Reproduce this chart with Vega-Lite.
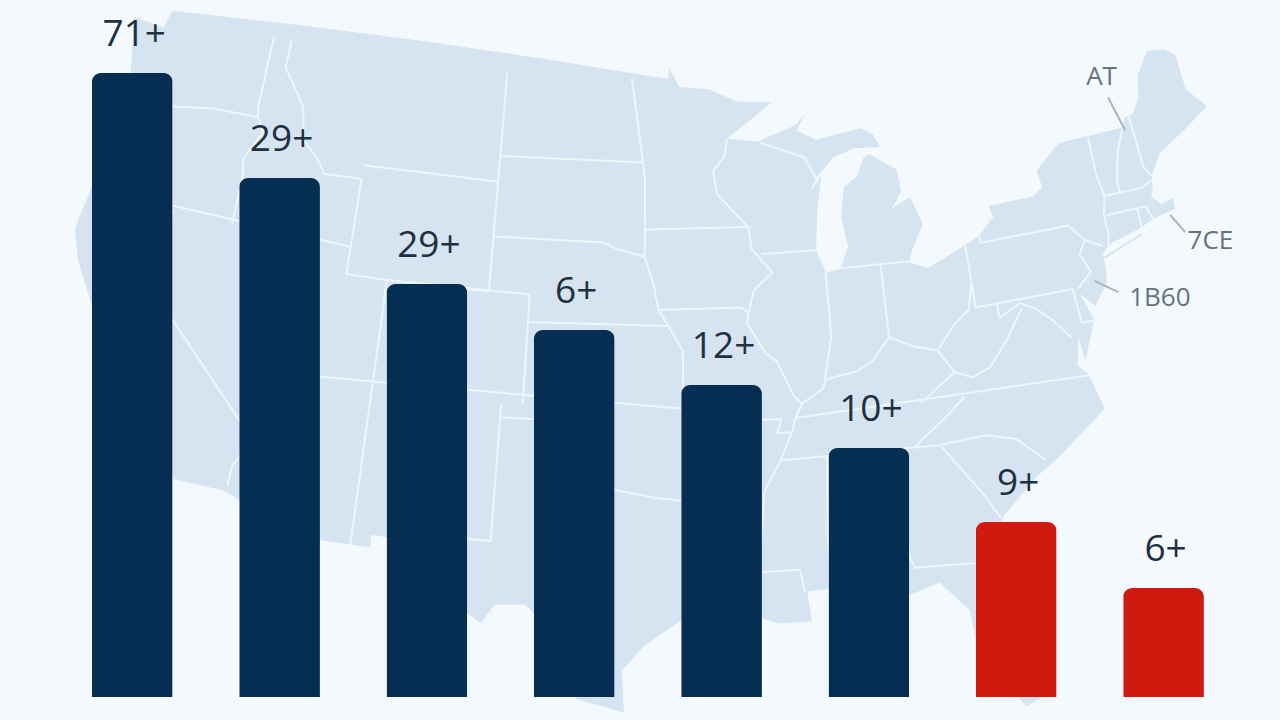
{"$schema":"https://vega.github.io/schema/vega-lite/v6.json","width":1280,"height":720,"padding":0,"autosize":{"type":"fit","contains":"padding"},"background":"#f4f9fe","config":{"view":{"stroke":null}},"layer":[
{"data":{"values":[{"type":"Feature","properties":{"name":"contiguous US"},"geometry":{"type":"MultiPolygon","coordinates":[[[[-124.7,48.4],[-123,48.3],[-122.8,49],[-95.2,49],[-95.15,49.4],[-94.6,48.7],[-93,48.6],[-91.5,48.1],[-89.6,48.0],[-92.1,46.75],[-90.5,46.6],[-88.4,47.1],[-87.9,47.47],[-88.4,46.9],[-87.4,46.5],[-85,46.75],[-84.4,46.5],[-84.1,46],[-85.5,46.05],[-86.6,45.8],[-87.6,45.1],[-88,44.55],[-87.3,45.2],[-87.7,43.8],[-87.9,42.5],[-87.5,41.65],[-86.8,41.75],[-86.3,42.5],[-86.5,43.6],[-86.2,44.7],[-85.5,45],[-85,45.7],[-84.7,45.78],[-83.4,45.1],[-83.3,44.3],[-83.9,43.7],[-82.9,44.05],[-82.45,43],[-83.1,42.2],[-83.4,41.7],[-82.5,41.4],[-81.2,41.8],[-79.8,42.25],[-78.9,42.85],[-79.05,43.27],[-76.8,43.3],[-76.2,43.55],[-76.3,44.2],[-75,44.95],[-74.7,45],[-71.5,45],[-71.3,45.3],[-70.8,45.4],[-70.3,45.9],[-70,46.7],[-69.2,47.45],[-68.3,47.35],[-67.8,47.05],[-67.8,45.7],[-67,44.9],[-68.5,44.3],[-70,43.75],[-70.7,43.05],[-70.8,42.6],[-71,42.3],[-70.6,41.95],[-70,42.05],[-70,41.65],[-71.2,41.5],[-71.9,41.3],[-73.6,41],[-74,40.7],[-74,40.4],[-74.1,39.7],[-74.9,38.95],[-75.5,39.5],[-75.1,38.5],[-75.9,37.1],[-76,38],[-76.3,37],[-75.9,36.6],[-75.5,35.25],[-76.5,34.7],[-77.9,33.9],[-79.1,33.3],[-80.8,32.1],[-81.4,30.7],[-81.3,29.8],[-80.5,28.4],[-80.05,26.8],[-80.3,25.4],[-81.1,25.1],[-81.8,26.1],[-82.7,27.7],[-82.8,28.9],[-83.9,30.05],[-85.3,29.7],[-86.5,30.4],[-88,30.25],[-89.5,30.2],[-89.4,29.1],[-90.8,29.1],[-92.2,29.55],[-93.8,29.7],[-94.9,29.3],[-96.4,28.4],[-97.3,27.5],[-97.2,25.95],[-99.1,26.4],[-99.5,27.5],[-100.6,29.1],[-101.4,29.77],[-102.7,29.7],[-103.2,29],[-104.5,29.65],[-106.5,31.75],[-108.2,31.78],[-108.2,31.33],[-111.07,31.33],[-114.8,32.5],[-117.1,32.53],[-117.3,33],[-118.4,33.75],[-120.6,34.55],[-121.9,36.6],[-122.5,37.8],[-123.8,39.3],[-124.4,40.4],[-124.2,42],[-124.5,42.8],[-124,44.8],[-123.95,46.2],[-124.7,48.4]]],[[[-74,40.6],[-72,41.1],[-71.9,41.05],[-73.9,40.55],[-74,40.6]]]]}}]},"mark":{"type":"geoshape","fill":"#d5e4f0","stroke":null},"projection":{"type":"albers","scale":1570,"translate":[641,362]}},
{"data":{"values":[{"type":"Feature","properties":{"name":"state borders"},"geometry":{"type":"MultiLineString","coordinates":[
[[-124,46.25],[-123.2,46.15],[-122.3,45.55],[-121.2,45.65],[-119.3,45.93],[-116.92,46]],
[[-117.03,49],[-117.04,46.4],[-116.92,46],[-116.5,45.5],[-117.2,44.4],[-117.03,43.8],[-117.03,42]],
[[-124.2,42],[-111.05,42]],
[[-120,42],[-120,39],[-114.63,35],[-114.13,34.3],[-114.7,33.4],[-114.72,32.7]],
[[-116.05,49],[-116.05,48],[-114.7,46.7],[-114.35,45.5],[-113.45,44.95],[-113,44.45],[-111.05,44.5],[-111.05,41],[-109.05,41]],
[[-114.05,42],[-114.05,36.2],[-114.75,36.1],[-114.63,35]],
[[-111.05,45],[-104.05,45],[-104.05,41],[-109.05,41]],
[[-109.05,41],[-109.05,31.33]],
[[-114.05,37],[-94.62,37]],
[[-109.05,41],[-102.05,41],[-102.05,37]],
[[-104.05,43],[-98.5,43],[-97.9,42.8],[-96.45,42.5]],
[[-102.05,40],[-95.3,40]],
[[-104.05,49],[-104.05,45]],
[[-104.05,45.94],[-96.56,45.94]],
[[-103.04,37],[-103.06,32],[-106.6,32]],
[[-103,36.5],[-100,36.5],[-100,34.56],[-98,34.1],[-96,33.8],[-94.48,33.64],[-94.04,33.55],[-94.04,31.99],[-93.55,31.2],[-93.8,29.7]],
[[-94.62,39.1],[-94.62,36.5],[-94.43,35.4],[-94.48,33.64]],
[[-95.77,40.58],[-91.73,40.6],[-91.42,40.38]],
[[-96.45,42.5],[-96,41.5],[-95.77,40.58],[-95.3,40],[-94.62,39.1]],
[[-97.2,49],[-96.56,45.94],[-96.45,45.3],[-96.45,42.5]],
[[-96.45,43.5],[-91.22,43.5]],
[[-92.1,46.75],[-92.3,46.1],[-92.9,45.6],[-92.75,44.75],[-91.22,43.5],[-91.1,42.7],[-90.15,41.8],[-91.1,41.2],[-91.42,40.38],[-91.5,40],[-90.7,38.9],[-90.2,38.6],[-89.5,37.3],[-89.15,37]],
[[-90.64,42.5],[-87.8,42.5]],
[[-87.53,41.7],[-87.53,39.35],[-88,37.8]],
[[-89.15,37],[-88.1,37.5],[-88,37.8],[-86.5,38],[-85.7,38.3],[-84.8,39.1],[-83.7,38.65],[-82.6,38.4],[-81.7,39.2],[-80.85,39.7],[-80.52,40.64]],
[[-84.8,39.1],[-84.8,41.7]],
[[-87,41.76],[-83.4,41.73]],
[[-80.52,41.97],[-80.52,39.72],[-75.79,39.72]],
[[-79.76,42.25],[-79.76,42],[-75.35,42],[-74.7,41.36],[-75.1,40.9],[-74.75,40.2],[-75.5,39.7]],
[[-74.7,41.36],[-73.9,41]],
[[-73.35,45],[-73.4,43.6],[-73.25,42.75],[-73.5,42.05],[-73.5,41.3],[-73.65,41]],
[[-71.5,45],[-72.05,44.2],[-72.45,43.2],[-72.46,42.73]],
[[-71.05,45.3],[-70.98,43.4],[-70.7,43.05]],
[[-73.25,42.75],[-71.3,42.7],[-70.8,42.87]],
[[-73.5,42.05],[-71.38,42.02],[-71.2,41.5]],
[[-71.8,42.02],[-71.85,41.32]],
[[-79.48,39.72],[-79.48,39.2],[-78.4,39.6],[-77.7,39.3],[-77.05,38.8],[-76.3,38]],
[[-82.6,38.4],[-81.97,37.54],[-81.2,37.25],[-80.3,37.5],[-79.3,38.4],[-78.35,39.4]],
[[-81.97,37.54],[-83.68,36.6]],
[[-89.5,36.5],[-75.9,36.55]],
[[-81.68,36.59],[-82.6,36],[-84.32,35]],
[[-90.3,35],[-83.1,35]],
[[-94.62,36.5],[-90.15,36.5],[-90.37,36],[-89.7,36]],
[[-89.15,37],[-89.5,36.5],[-89.7,36],[-90.3,35],[-91.1,33.9],[-91.2,33],[-91.6,31],[-89.75,31],[-89.6,30.2]],
[[-94.04,33.02],[-91.2,33]],
[[-88.2,35],[-88.47,31.9],[-88.4,30.3]],
[[-85.6,35],[-85.18,32.87],[-85,31],[-84.86,30.7],[-82.2,30.57],[-81.45,30.7]],
[[-87.6,30.3],[-87.6,31],[-85,31]],
[[-83.1,35],[-81.5,33],[-80.9,32.05]],
[[-83.1,35],[-81,35.1],[-79.7,34.8],[-78.55,33.86]],
[[-90.4,46.55],[-88.1,45.9],[-87.6,45.1]],
[[-75.79,39.72],[-75.7,38.46],[-75.05,38.45]]
]}}]},"mark":{"type":"geoshape","filled":false,"stroke":"#eef6fc","strokeWidth":2},"projection":{"type":"albers","scale":1570,"translate":[641,362]}},
{"data":{"values":[{"type":"Feature","properties":{"name":"AT"},"geometry":{"type":"LineString","coordinates":[[-71.83,46.2],[-71.41,44.88]]}},{"type":"Feature","properties":{"name":"7CE"},"geometry":{"type":"LineString","coordinates":[[-70.33,41.48],[-69.85,40.74]]}},{"type":"Feature","properties":{"name":"1B60"},"geometry":{"type":"LineString","coordinates":[[-74.67,39.84],[-73.7,39.25]]}}]},"mark":{"type":"geoshape","filled":false,"stroke":"#a9b6c2","strokeWidth":2},"projection":{"type":"albers","scale":1570,"translate":[641,362]}},
{"data":{"values":[{"note":"AT","lon":-71.9,"lat":46.97},{"note":"7CE","lon":-68.8,"lat":40.18},{"note":"1B60","lon":-71.85,"lat":38.68}]},"mark":{"type":"text","font":"Open Sans","fontSize":26,"fill":"#66727e","align":"center","baseline":"middle"},"projection":{"type":"albers","scale":1570,"translate":[641,362]},"encoding":{"longitude":{"field":"lon","type":"quantitative"},"latitude":{"field":"lat","type":"quantitative"},"text":{"field":"note"}}},
{"data":{"values":[{"bar":"a","value":624,"label":"71+","group":"blue"},{"bar":"b","value":519,"label":"29+","group":"blue"},{"bar":"c","value":413,"label":"29+","group":"blue"},{"bar":"d","value":367,"label":"6+","group":"blue"},{"bar":"e","value":312,"label":"12+","group":"blue"},{"bar":"f","value":249,"label":"10+","group":"blue"},{"bar":"g","value":175,"label":"9+","group":"red"},{"bar":"h","value":109,"label":"6+","group":"red"}]},"encoding":{"x":{"field":"bar","type":"nominal","axis":null,"sort":null,"scale":{"paddingInner":0.452,"paddingOuter":0.57,"align":0.547}},"y":{"field":"value","type":"quantitative","axis":null,"scale":{"domain":[-23,697],"nice":false,"zero":false}}},"layer":[{"mark":{"type":"bar","cornerRadiusTopLeft":9,"cornerRadiusTopRight":9},"encoding":{"color":{"field":"group","type":"nominal","legend":null,"scale":{"domain":["blue","red"],"range":["#062e52","#d01a10"]}}}},{"mark":{"type":"text","font":"Open Sans","fontSize":37,"fill":"#20303e","baseline":"alphabetic","dy":-27,"dx":2},"encoding":{"text":{"field":"label"}}}]}
]}
